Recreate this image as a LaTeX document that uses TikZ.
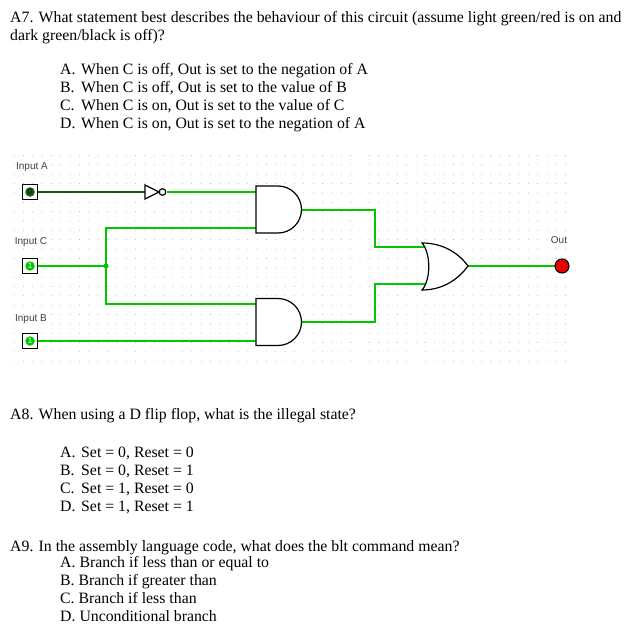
\documentclass[tikz,border=0pt]{standalone}
\usepackage{fontspec}
\setmainfont{Liberation Serif}
\newfontfamily\lsans{Liberation Sans}
\begin{document}
\begin{tikzpicture}[x=1pt,y=-1pt,
  q/.style={anchor=base west,inner sep=0,font=\fontsize{15.8}{18}\selectfont},
  lab/.style={anchor=center,inner sep=0,font=\lsans\fontsize{10}{11}\selectfont,text=black!75},
  won/.style={line width=2.2pt,color={rgb,255:red,0;green,200;blue,0}},
  woff/.style={line width=2.2pt,color={rgb,255:red,20;green,90;blue,20}},
  gate/.style={draw=black,line width=1.2pt,fill=white},
  inbox/.style={draw=black,line width=1.5pt,minimum size=15pt,inner sep=0},
  lamp/.style={circle,inner sep=0,minimum size=9.5pt,font=\lsans\fontsize{8}{8}\selectfont,text=black}]
\useasboundingbox (0,0) rectangle (631,631);
\fill[white] (0,0) rectangle (631,631);
% text
\node[q] (t1) at (10,23) {A7. What statement best describes the behaviour of this circuit (assume light green/red is on and};
\node[q] (t2) at (10,41) {dark green/black is off)?};
\foreach \y/\l/\s in {75/A/{When C is off, Out is set to the negation of A},93/B/{When C is off, Out is set to the value of B},111/C/{When C is on, Out is set to the value of C},129/D/{When C is on, Out is set to the negation of A}}{
  \node[q] at (60,\y) {\l.};
  \node[q] at (81,\y) {\s};}
\node[q] (t3) at (10,419) {A8. When using a D flip flop, what is the illegal state?};
\foreach \y/\l/\s in {457/A/{Set = 0, Reset = 0},475/B/{Set = 0, Reset = 1},493/C/{Set = 1, Reset = 0},511/D/{Set = 1, Reset = 1}}{
  \node[q] at (60,\y) {\l.};
  \node[q] at (81,\y) {\s};}
\node[q] (t4) at (10,551) {A9. In the assembly language code, what does the blt command mean?};
\foreach \y/\s in {567/{A. Branch if less than or equal to},585/{B. Branch if greater than},603/{C. Branch if less than},621/{D. Unconditional branch}}{
  \node[q] at (60,\y) {\s};}
% grid
\foreach \i in {0,...,59}{\foreach \j in {0,...,22}{
  \fill[black!35] (14+9.35*\i,155.5+9.35*\j) circle (0.45);}}
% labels
\node[lab] at (32,167) {Input A};
\node[lab] at (31,242) {Input C};
\node[lab] at (31,319) {Input B};
\node[lab] at (559,240) {Out};
% inputs
\node[inbox,fill=white] (A) at (30,192) {};
\node[inbox,fill=white] (C) at (30,266) {};
\node[inbox,fill=white] (B) at (30,341) {};
\node[lamp,fill={rgb,255:red,20;green,90;blue,20},text={rgb,255:red,0;green,40;blue,0}] at (A) {0};
\node[lamp,fill={rgb,255:red,0;green,200;blue,0},text=white] at (C) {1};
\node[lamp,fill={rgb,255:red,0;green,200;blue,0},text=white] at (B) {1};
% coordinates
\coordinate (n1) at (145,192); \coordinate (n2) at (167,192);
\coordinate (a1i1) at (256,192); \coordinate (a1i2) at (256,228); \coordinate (a1o) at (302,210);
\coordinate (a2i1) at (256,304); \coordinate (a2i2) at (256,341); \coordinate (a2o) at (302,322);
\coordinate (j) at (106,266);
\coordinate (oi1) at (426,247); \coordinate (oi2) at (426,284); \coordinate (oo) at (468,266);
\coordinate (L) at (562,266);
% wires
\draw[woff] (A) -- (n1);
\draw[won] (n2) -- (a1i1);
\draw[won] (C) -- (j);
\draw[won] (a1i2) -| (j) |- (a2i1);
\draw[won] (B) -- (a2i2);
\draw[won] (a1o) -- (375,210) |- (oi1);
\draw[won] (a2o) -- (375,322) |- (oi2);
\draw[won] (oo) -- (L);
\fill[color={rgb,255:red,0;green,200;blue,0}] (j) circle (2.6);
% NOT
\draw[gate] (145,185) -- (159,192) -- (145,199) -- cycle;
\draw[gate] (162.5,192) circle (3.3);
% ANDs
\draw[gate] (256,186) -- (278,186) arc (-90:90:23.5) -- (256,233) -- cycle;
\draw[gate] (256,298.5) -- (278,298.5) arc (-90:90:23.5) -- (256,345.5) -- cycle;
% OR
\draw[gate] (422,243) .. controls (445,243) and (460,255) .. (468,266)
  .. controls (460,277) and (445,290) .. (422,290)
  .. controls (431,280) and (431,253) .. (422,243) -- cycle;
% lamp
\draw[black,line width=1.1pt,fill={rgb,255:red,230;green,0;blue,0}] (L) circle (7);
\end{tikzpicture}
\end{document}
